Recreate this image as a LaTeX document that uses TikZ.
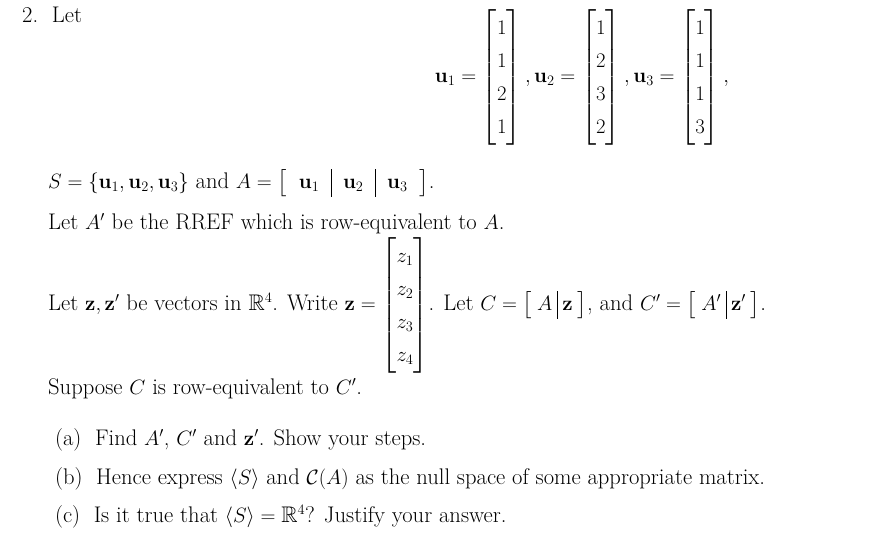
\documentclass[tikz,border=0pt]{standalone}
\usepackage{amsmath,amssymb}
\usetikzlibrary{positioning}
\tikzset{line/.style={anchor=base west, inner sep=0pt, font=\fontsize{22.6}{27.5}\selectfont}}
\begin{document}
\begin{tikzpicture}[x=1pt, y=-1pt]
	\useasboundingbox (0,0) rectangle (887,541);
	% Heading and vectors
	\node [line] (head) at (22,22) {2.\ \ Let};
	\node [line, anchor=center] (vecs) at (582,77)
		{\renewcommand{\arraystretch}{1.2}\setlength{\arraycolsep}{3pt}%
		$\mathbf{u}_1 = \begin{bmatrix}1\\1\\2\\1\end{bmatrix}, \mathbf{u}_2 = \begin{bmatrix}1\\2\\3\\2\end{bmatrix}, \mathbf{u}_3 = \begin{bmatrix}1\\1\\1\\3\end{bmatrix},$};

	% Body lines
	\node [line] (sdef) at (48,188)
		{$S=\{\mathbf{u}_1,\mathbf{u}_2,\mathbf{u}_3\}$ and $A=\left[\begin{array}{c|c|c}\ \mathbf{u}_1\ &\ \mathbf{u}_2\ &\ \mathbf{u}_3\ \end{array}\right]$.};
	\node [line] (rref) at (48,229) {Let $A'$ be the RREF which is row-equivalent to $A$.};
	\node [line, anchor=west] (zdef) at (48,305)
		{Let $\mathbf{z},\mathbf{z}'$ be vectors in $\mathbb{R}^4$. Write $\mathbf{z}=
		{\renewcommand{\arraystretch}{1.2}\setlength{\arraycolsep}{3pt}\begin{bmatrix}z_1\\z_2\\z_3\\z_4\end{bmatrix}}$.
		Let $C=\left[\begin{array}{c|c} A & \mathbf{z} \end{array}\right]$, and
		$C'=\left[\begin{array}{c|c} A' & \mathbf{z}' \end{array}\right]$.};
	\node [line] (supp) at (48,394) {Suppose $C$ is row-equivalent to $C'$.};

	% Parts
	\node [line] (pa) at (48,445) {\ (a)\ \ Find $A'$, $C'$ and $\mathbf{z}'$. Show your steps.};
	\node [line] (pb) at (48,484) {\ (b)\ \ Hence express $\langle S\rangle$ and $\mathcal{C}(A)$ as the null space of some appropriate matrix.};
	\node [line] (pc) at (48,522) {\ (c)\ \ Is it true that $\langle S\rangle=\mathbb{R}^4$? Justify your answer.};
\end{tikzpicture}
\end{document}
